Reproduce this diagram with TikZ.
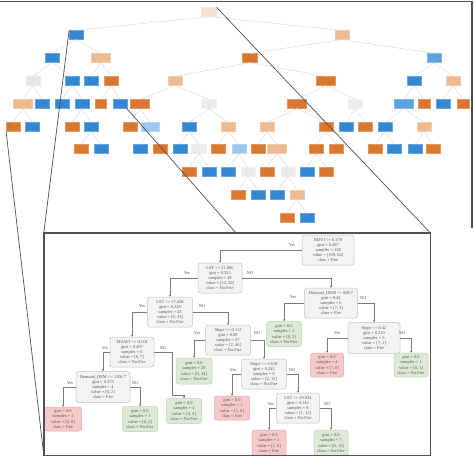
\documentclass[tikz,border=0pt]{standalone}
\usepackage{fontspec}
\setmainfont{Liberation Serif}
\usetikzlibrary{arrows.meta}
\definecolor{tO}{HTML}{D9762F}
\definecolor{tB}{HTML}{3487D2}
\definecolor{tLO}{HTML}{EDBA92}
\definecolor{tLB}{HTML}{9CC7EE}
\definecolor{tB2}{HTML}{5CA3E0}
\definecolor{tG}{HTML}{EBEBEB}
\definecolor{tG2}{HTML}{DFE6EE}
\definecolor{tR}{HTML}{F1E2D8}
\definecolor{tedge}{HTML}{E0D4CE}
\definecolor{gfill}{HTML}{F3F3F3}
\definecolor{gdraw}{HTML}{C2C2C2}
\definecolor{rfill}{HTML}{F6C9C7}
\definecolor{rdraw}{HTML}{E2A6A3}
\definecolor{nfill}{HTML}{DCEBD5}
\definecolor{ndraw}{HTML}{B9D5AD}
\definecolor{txt}{HTML}{555555}
\definecolor{ecol}{HTML}{7A7A7A}
\definecolor{frame}{HTML}{505050}
\begin{document}
\begin{tikzpicture}[x=1pt,y=-1pt,
  tn/.style={rectangle, inner sep=0pt, minimum width=13.5, minimum height=9, fill=#1, draw=#1!75!white, line width=0.3pt},
  tedgeS/.style={draw=tedge, line width=0.4pt},
  dt/.style={rectangle, rounded corners=2.5pt, inner sep=0pt, align=center, font=\fontsize{4.4}{5.2}\selectfont, text=txt, line width=0.5pt},
  gbox/.style={dt, fill=gfill, draw=gdraw},
  rbox/.style={dt, fill=rfill, draw=rdraw},
  nbox/.style={dt, fill=nfill, draw=ndraw},
  edge/.style={draw=ecol, line width=0.6pt, -{Stealth[length=2pt,width=2pt]}},
  lbl/.style={font=\fontsize{4.4}{5}\selectfont, text=txt, inner sep=0pt},
  zl/.style={draw=frame, line width=0.7pt}]
\useasboundingbox (0,0) rectangle (474,463);
\fill[white] (0,0) rectangle (474,463);
% outer frame of the full tree
\coordinate (fa) at (0,1.5);
\coordinate (fb) at (472,1.5);
\coordinate (fc) at (472,228);
\draw[draw=frame, line width=1.1pt] (fa) -- (fb) -- (fc);

% ---- full tree ----
\node[tn=tR, minimum width=15] (r) at (209,12) {};
\node[tn=tB] (a1) at (76,35) {};
\node[tn=tLO] (a2) at (342,35) {};
\node[tn=tB] (b1) at (52,58) {};
\node[tn=tLO, minimum width=19] (b2) at (101,58) {};
\node[tn=tO, minimum width=15] (b3) at (250,58) {};
\node[tn=tB2] (b4) at (434,58) {};
\node[tn=tG2] (c1) at (33,81) {};
\node[tn=tB] (c2) at (72,81) {};
\node[tn=tB] (c3) at (91,81) {};
\node[tn=tO] (c4) at (111,81) {};
\node[tn=tLO] (c5) at (175,81) {};
\node[tn=tO, minimum width=19] (c6) at (326,81) {};
\node[tn=tB] (c7) at (414,81) {};
\node[tn=tLO] (c8) at (453,81) {};
\node[tn=tLO, minimum width=19] (d1) at (23,104) {};
\node[tn=tB] (d2) at (42,104) {};
\node[tn=tB] (d3) at (62,104) {};
\node[tn=tB] (d4) at (82,104) {};
\node[tn=tO, minimum width=11] (d5) at (101,104) {};
\node[tn=tB] (d6) at (120,104) {};
\node[tn=tO, minimum width=19] (d7) at (140,104) {};
\node[tn=tG, minimum width=15] (d8) at (209,104) {};
\node[tn=tO, minimum width=19] (d9) at (297,104) {};
\node[tn=tG, minimum width=14] (d10) at (355,104) {};
\node[tn=tB2, minimum width=19] (d11) at (404,104) {};
\node[tn=tO, minimum width=12] (d12) at (424,104) {};
\node[tn=tB] (d13) at (443,104) {};
\node[tn=tO, minimum width=12] (d14) at (463,104) {};
\node[tn=tO] (e1) at (13,127) {};
\node[tn=tB] (e2) at (32,127) {};
\node[tn=tO] (e3) at (72,127) {};
\node[tn=tB] (e4) at (91,127) {};
\node[tn=tO] (e5) at (130,127) {};
\node[tn=tLB, minimum width=18] (e6) at (150,127) {};
\node[tn=tB] (e7) at (189,127) {};
\node[tn=tLO] (e8) at (228,127) {};
\node[tn=tLO] (e9) at (267,127) {};
\node[tn=tO] (e10) at (326,127) {};
\node[tn=tB] (e11) at (346,127) {};
\node[tn=tO] (e12) at (365,127) {};
\node[tn=tB] (e13) at (385,127) {};
\node[tn=tLO] (e14) at (424,127) {};
\node[tn=tO] (f1) at (81,149) {};
\node[tn=tB] (f2) at (101,149) {};
\node[tn=tB] (f3) at (140,149) {};
\node[tn=tO] (f4) at (160,149) {};
\node[tn=tB] (f5) at (180,149) {};
\node[tn=tG, minimum width=15] (f6) at (199,149) {};
\node[tn=tO] (f7) at (218,149) {};
\node[tn=tLB, minimum width=14] (f8) at (239,149) {};
\node[tn=tO] (f9) at (258,149) {};
\node[tn=tLO, minimum width=19] (f10) at (277,149) {};
\node[tn=tO] (f11) at (316,149) {};
\node[tn=tO] (f12) at (336,149) {};
\node[tn=tO] (f13) at (375,149) {};
\node[tn=tB] (f14) at (394,149) {};
\node[tn=tB] (f15) at (415,149) {};
\node[tn=tO] (f16) at (433,149) {};
\node[tn=tO] (g1) at (189,172) {};
\node[tn=tB] (g2) at (209,172) {};
\node[tn=tB] (g3) at (228,172) {};
\node[tn=tG, minimum width=14] (g4) at (248,172) {};
\node[tn=tO] (g5) at (267,172) {};
\node[tn=tG, minimum width=14] (g6) at (288,172) {};
\node[tn=tB] (g7) at (307,172) {};
\node[tn=tO] (g8) at (326,172) {};
\node[tn=tO] (h1) at (238,195) {};
\node[tn=tB] (h2) at (258,195) {};
\node[tn=tB] (h3) at (277,195) {};
\node[tn=tLO] (h4) at (297,195) {};
\node[tn=tO] (i1) at (287,218) {};
\node[tn=tB] (i2) at (307,218) {};

\foreach \p/\c in {r/a1,r/a2,a1/b1,a1/b2,a2/b3,a2/b4,b1/c1,b1/c2,b2/c3,b2/c4,b3/c5,b3/c6,b4/c7,b4/c8,
  c1/d1,c1/d2,c2/d3,c2/d4,c4/d5,c4/d6,c5/d7,c5/d8,c6/d9,c6/d10,c7/d11,c7/d12,c8/d13,c8/d14,
  d1/e1,d1/e2,d4/e3,d4/e4,d7/e5,d7/e6,d8/e7,d8/e8,d9/e9,d9/e10,d10/e11,d10/e12,d11/e13,d11/e14,
  e4/f1,e4/f2,e6/f3,e6/f4,e7/f5,e7/f6,e8/f7,e8/f8,e9/f9,e9/f10,e10/f11,e10/f12,e13/f13,e13/f14,e14/f15,e14/f16,
  f6/g1,f6/g2,f8/g3,f8/g4,f10/g5,f10/g6,f11/g7,f11/g8,g4/h1,g4/h2,g6/h3,g6/h4,h4/i1,h4/i2}
  \draw[tedgeS] (\p.south) -- (\c.north);

% ---- inset ----
\node[minimum width=386, minimum height=222, inner sep=0pt] (ins) at (237,344) {};
\coordinate (zt) at (236,233);
\begin{scope}
\clip (44,233) rectangle (430,455);
\fill[white] (44,233) rectangle (430,455);
\node[gbox, minimum width=52, minimum height=30] (ndvi) at (328,250) {NDVI <= 0.178\\gini = 0.497\\samples = 138\\value = [109, 84]\\class = Fire};
\node[gbox, minimum width=44, minimum height=30] (lst1) at (220,278) {LST <= 21.806\\gini = 0.333\\samples = 49\\value = [13, 50]\\class = No-Fire};
\node[gbox, minimum width=53, minimum height=30] (dem1) at (331,303) {Demand\_DEM <= 669.7\\gini = 0.42\\samples = 6\\value = [7, 3]\\class = Fire};
\node[gbox, minimum width=45, minimum height=30] (lst2) at (170,312) {LST <= 17.428\\gini = 0.228\\samples = 43\\value = [8, 53]\\class = No-Fire};
\node[nbox, minimum width=35, minimum height=25] (gd1) at (284,334) {gini = 0.0\\samples = 1\\value = [0, 2]\\class = No-Fire};
\node[gbox, minimum width=52, minimum height=31] (sl42) at (374,338) {Slope <= 0.42\\gini = 0.219\\samples = 5\\value = [7, 1]\\class = Fire};
\node[rbox, minimum width=33, minimum height=24] (rs42) at (327,365) {gini = 0.0\\samples = 4\\value = [7, 0]\\class = Fire};
\node[nbox, minimum width=34, minimum height=24] (gs42) at (411,365) {gini = 0.0\\samples = 1\\value = [0, 1]\\class = No-Fire};
\node[gbox, minimum width=44, minimum height=30] (msavi) at (132,352) {MSAVI <= 0.118\\gini = 0.497\\samples = 6\\value = [6, 7]\\class = No-Fire};
\node[gbox, minimum width=45, minimum height=30] (sl112) at (228,340) {Slope <= 0.112\\gini = 0.08\\samples = 37\\value = [2, 46]\\class = No-Fire};
\node[gbox, minimum width=54, minimum height=31] (dem2) at (103,387) {Demand\_DEM <= 1104.7\\gini = 0.375\\samples = 4\\value = [6, 2]\\class = Fire};
\node[rbox, minimum width=37, minimum height=24] (rd2) at (63,419) {gini = 0.0\\samples = 3\\value = [6, 0]\\class = Fire};
\node[nbox, minimum width=35, minimum height=25] (gd2) at (140,419) {gini = 0.0\\samples = 1\\value = [0, 2]\\class = No-Fire};
\node[nbox, minimum width=35, minimum height=25] (gms) at (184,411) {gini = 0.0\\samples = 4\\value = [0, 5]\\class = No-Fire};
\node[nbox, minimum width=36, minimum height=26] (gs112) at (194,371) {gini = 0.0\\samples = 28\\value = [0, 34]\\class = No-Fire};
\node[gbox, minimum width=45, minimum height=30] (sl618) at (264,374) {Slope <= 0.618\\gini = 0.245\\samples = 9\\value = [2, 12]\\class = No-Fire};
\node[rbox, minimum width=35, minimum height=24] (rs618) at (232,408) {gini = 0.0\\samples = 1\\value = [1, 0]\\class = Fire};
\node[gbox, minimum width=43, minimum height=30] (lst29) at (298,408) {LST <= 29.034\\gini = 0.142\\samples = 8\\value = [1, 12]\\class = No-Fire};
\node[rbox, minimum width=34, minimum height=26] (rl29) at (269,443) {gini = 0.0\\samples = 1\\value = [1, 0]\\class = Fire};
\node[nbox, minimum width=34, minimum height=26] (gl29) at (331,443) {gini = 0.0\\samples = 7\\value = [0, 12]\\class = No-Fire};
\coordinate (m1) at (172,395);

\draw[edge] (ndvi.west) -| (lst1.north);
\draw[edge] (lst1.west) -| (lst2.north);
\draw[edge] (lst1.east) -| (dem1.north);
\draw[edge] (dem1.west) -| (gd1.north);
\draw[edge] (dem1.east) -| (sl42.north);
\draw[edge] (sl42.west) -| (rs42.north);
\draw[edge] (sl42.east) -| (gs42.north);
\draw[edge] (lst2.west) -| (msavi.north);
\draw[edge] (lst2.east) -| (sl112.north);
\draw[edge] (msavi.west) -| (dem2.north);
\draw[edge] (msavi.east) -| (m1) -| (gms.north);
\draw[edge] (dem2.west) -| (rd2.north);
\draw[edge] (dem2.east) -| (gd2.north);
\draw[edge] (sl112.west) -| (gs112.north);
\draw[edge] (sl112.east) -| (sl618.north);
\draw[edge] (sl618.west) -| (rs618.north);
\draw[edge] (sl618.east) -| (lst29.north);
\draw[edge] (lst29.west) -| (rl29.north);
\draw[edge] (lst29.east) -| (gl29.north);

\node[lbl] (y1) at (292,245) {Yes};
\node[lbl] (y2) at (187,273) {Yes};
\node[lbl] (n2) at (250,273) {NO};
\node[lbl] (y3) at (142,306) {Yes};
\node[lbl] (n3) at (202,306) {NO};
\node[lbl] (y4) at (293,297) {Yes};
\node[lbl] (n4) at (363,298) {NO};
\node[lbl] (y5) at (337,333) {Yes};
\node[lbl] (n5) at (402,333) {NO};
\node[lbl] (y6) at (105,348) {Yes};
\node[lbl] (n6) at (163,348) {NO};
\node[lbl] (y7) at (197,333) {Yes};
\node[lbl] (n7) at (257,333) {NO};
\node[lbl] (y8) at (70,383) {Yes};
\node[lbl] (n8) at (135,383) {NO};
\node[lbl] (y9) at (233,370) {Yes};
\node[lbl] (n9) at (292,370) {NO};
\node[lbl] (y10) at (271,404) {Yes};
\node[lbl] (n10) at (327,404) {NO};
\end{scope}
\draw[draw=frame, line width=1.4pt] (ins.north west) rectangle (ins.south east);

% zoom lines
\draw[zl] (a1.north west) -- (ins.north west);
\draw[zl] (e1.south west) -- (ins.south west);
\draw[zl] (r.north east) -- (ins.north east);
\draw[zl] (d6.south east) -- (zt);
\end{tikzpicture}
\end{document}
